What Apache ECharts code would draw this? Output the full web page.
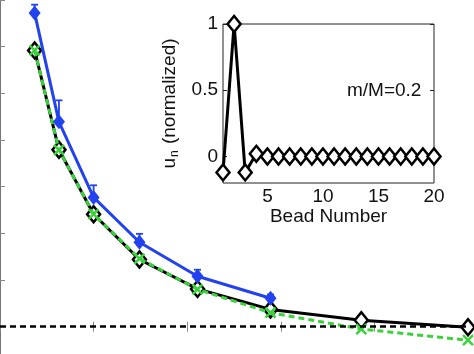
<!DOCTYPE html>
<html>
<head>
<meta charset="utf-8">
<script src="https://cdn.jsdelivr.net/npm/echarts@6/dist/echarts.min.js"></script>
<style>
  html, body { margin: 0; padding: 0; background: #fff; }
  #chart { width: 474px; height: 354px; }
</style>
</head>
<body>
<div id="chart"></div>
<script>
// main plot (axis values have no printed labels in the crop)
const mainX = [0.37, 0.63, 1.0, 1.49, 2.11, 2.89, 3.86, 5.0];
const blueY = [6.72, 4.39, 2.77, 1.81, 1.08, 0.61];
const blueErrTop = [6.9, 4.85, 3.03, 1.99, 1.22, 0.69];
const blackY = [5.92, 3.79, 2.41, 1.44, 0.81, 0.37, 0.14, -0.01];
const greenY = [5.92, 3.79, 2.41, 1.46, 0.80, 0.30, -0.05, -0.29];
const mainYTicks = [0, 1, 2, 3, 4, 5, 6, 7];

// inset
const beads = [1, 2, 3, 4, 5, 6, 7, 8, 9, 10, 11, 12, 13, 14, 15, 16, 17, 18, 19, 20];
const beadU = [-0.12, 1, -0.12, 0.02, 0, 0, 0, 0, 0, 0, 0, 0, 0, 0, 0, 0, 0, 0, 0, 0];
const insetXTicks = [5, 10, 15, 20];
const insetYTicks = [0, 0.5, 1];

const font = 'Liberation Sans, Arial, Helvetica, sans-serif';
const blue = '#2142ee';
const green = '#3ad23a';

const chart = echarts.init(document.getElementById('chart'));

const tickStyle = { show: true, inside: true, length: 5, lineStyle: { color: '#888', width: 1 } };
const insetTick = { show: true, inside: true, length: 4, lineStyle: { color: '#222', width: 1 } };

const option = {
  animation: false,
  backgroundColor: '#fff',
  grid: [
    { left: -1, right: 6, top: -1, bottom: -2 },
    { left: 223, right: 40, top: 24, bottom: 171, show: true, backgroundColor: '#fff', borderColor: '#222', borderWidth: 1, z: 5 }
  ],
  xAxis: [
    { type: 'value', gridIndex: 0, min: 0, max: 5, interval: 1, position: 'bottom',
      axisLine: { show: false }, axisTick: tickStyle, axisLabel: { show: false }, splitLine: { show: false } },
    { type: 'value', gridIndex: 0, min: 0, max: 5, interval: 1, position: 'top',
      axisLine: { show: false }, axisTick: tickStyle, axisLabel: { show: false }, splitLine: { show: false } },
    { type: 'value', gridIndex: 1, min: 1, max: 20, position: 'bottom', z: 6,
      axisLine: { show: false },
      axisTick: Object.assign({ customValues: insetXTicks }, insetTick),
      axisLabel: { customValues: insetXTicks, color: '#111', fontFamily: font, fontSize: 19, margin: 4 },
      splitLine: { show: false },
      name: 'Bead Number', nameLocation: 'middle', nameGap: 19,
      nameTextStyle: { color: '#111', fontFamily: font, fontSize: 19 } },
    { type: 'value', gridIndex: 1, min: 1, max: 20, position: 'top', z: 6,
      axisLine: { show: false },
      axisTick: Object.assign({ customValues: insetXTicks }, insetTick),
      axisLabel: { show: false }, splitLine: { show: false } }
  ],
  yAxis: [
    { type: 'value', gridIndex: 0, min: -0.585, max: 7, position: 'left',
      axisLine: { show: false },
      axisTick: Object.assign({ customValues: mainYTicks }, tickStyle),
      axisLabel: { show: false }, splitLine: { show: false } },
    { type: 'value', gridIndex: 0, min: -0.585, max: 7, position: 'right',
      axisLine: { show: true, lineStyle: { color: '#777', width: 2 } },
      axisTick: Object.assign({ customValues: mainYTicks }, tickStyle),
      axisLabel: { show: false }, splitLine: { show: false } },
    { type: 'value', gridIndex: 1, min: -0.2, max: 1, position: 'left', z: 6,
      axisLine: { show: false },
      axisTick: Object.assign({ customValues: insetYTicks }, insetTick),
      axisLabel: { customValues: insetYTicks, color: '#111', fontFamily: font, fontSize: 19, margin: 5 },
      splitLine: { show: false },
      name: '{a|u}{s|n}{a| (normalized)}', nameLocation: 'middle', nameGap: 42, nameRotate: 90,
      nameTextStyle: {
        color: '#111', fontFamily: font, fontSize: 19,
        rich: {
          a: { fontFamily: font, fontSize: 19, color: '#111', lineHeight: 22 },
          s: { fontFamily: font, fontSize: 12, color: '#111', verticalAlign: 'bottom', lineHeight: 12, padding: [0, 1, 0, 1] }
        }
      } },
    { type: 'value', gridIndex: 1, min: -0.2, max: 1, position: 'right', z: 6,
      axisLine: { show: false },
      axisTick: Object.assign({ customValues: insetYTicks }, insetTick),
      axisLabel: { show: false }, splitLine: { show: false } }
  ],
  graphic: [
    { type: 'text', left: 347, top: 81, z: 10,
      style: { text: 'm/M=0.2', fill: '#111', font: '19px ' + font } }
  ],
  series: [
    {
      name: 'black', type: 'line', xAxisIndex: 0, yAxisIndex: 0,
      data: blackY.map((y, i) => [mainX[i], y]),
      symbol: 'diamond', symbolSize: [13, 16],
      lineStyle: { color: '#000', width: 3 },
      itemStyle: { color: '#fff', borderColor: '#000', borderWidth: 2.5 },
      z: 2,
      markLine: {
        silent: true, symbol: ['none', 'none'], label: { show: false },
        lineStyle: { color: '#000', type: [6, 4], width: 2.5 },
        data: [{ yAxis: 0 }]
      }
    },
    {
      name: 'green', type: 'line', xAxisIndex: 0, yAxisIndex: 0,
      data: greenY.map((y, i) => [mainX[i], y]),
      symbol: 'path://M0,0L10,10M10,0L0,10', symbolSize: 10,
      lineStyle: { color: green, width: 3, type: [6, 4] },
      itemStyle: { color: 'none', borderColor: green, borderWidth: 2.5 },
      z: 3
    },
    {
      name: 'blue', type: 'line', xAxisIndex: 0, yAxisIndex: 0,
      data: blueY.map((y, i) => [mainX[i], y]),
      symbol: 'diamond', symbolSize: [12, 15],
      lineStyle: { color: blue, width: 3 },
      itemStyle: { color: blue },
      z: 4
    },
    {
      name: 'blueErr', type: 'custom', xAxisIndex: 0, yAxisIndex: 0,
      data: blueY.map((y, i) => [mainX[i], y, blueErrTop[i]]),
      z: 4,
      renderItem: function (params, api) {
        const base = api.coord([api.value(0), api.value(1)]);
        const top = api.coord([api.value(0), api.value(2)]);
        const style = { stroke: blue, lineWidth: 1.8 };
        return {
          type: 'group',
          children: [
            { type: 'line', shape: { x1: base[0], y1: base[1], x2: top[0], y2: top[1] }, style: style },
            { type: 'line', shape: { x1: top[0] - 3.5, y1: top[1], x2: top[0] + 3.5, y2: top[1] }, style: style }
          ]
        };
      }
    },
    {
      name: 'inset', type: 'line', xAxisIndex: 2, yAxisIndex: 2,
      data: beadU.map((u, i) => [beads[i], u]),
      symbol: 'diamond', symbolSize: [13, 16],
      lineStyle: { color: '#000', width: 3 },
      itemStyle: { color: '#fff', borderColor: '#000', borderWidth: 2.5 },
      z: 7
    }
  ]
};

option && chart.setOption(option);
</script>
</body>
</html>
